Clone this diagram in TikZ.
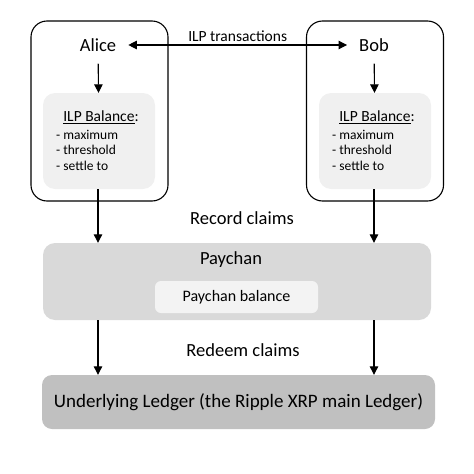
\documentclass[tikz,border=0pt]{standalone}
\usepackage{fontspec}
\setmainfont{Carlito}
\usepackage{tikz}
\usetikzlibrary{arrows.meta}
\definecolor{balfill}{RGB}{240,240,240}
\definecolor{chanfill}{RGB}{217,217,217}
\definecolor{chanbal}{RGB}{243,243,243}
\definecolor{ledgerfill}{RGB}{192,192,192}

\begin{document}
\begin{tikzpicture}[x=1pt, y=-1pt,
    >={Triangle[length=8.5pt, width=8.5pt]},
    flow/.style={->, line width=1.1pt},
    party/.style={draw=black, line width=1.1pt, rounded corners=16pt, minimum width=137pt, minimum height=180pt},
    who/.style={font=\fontsize{18.5}{22}\selectfont, inner sep=12pt},
    balbox/.style={fill=balfill, rounded corners=12pt, minimum width=112pt, minimum height=96pt},
    baltitle/.style={font=\fontsize{15.5}{18}\selectfont},
    ballist/.style={font=\fontsize{13.5}{15.5}\selectfont, align=left, anchor=west, inner sep=0pt},
    bigtext/.style={font=\fontsize{18.5}{22}\selectfont}]
  \useasboundingbox (0,0) rectangle (474,474);

  % the two parties
  \node[party] (aliceBox) at (99.5,111) {};
  \node[party] (bobBox) at (375,111) {};
  \node[balbox] (aliceBal) at (99,141) {};
  \node[balbox] (bobBal) at (375,141) {};
  \node[who] (alice) at (98,45) {Alice};
  \node[who] (bob) at (374,45) {Bob};
  \node[baltitle] (aliceHead) at (101,117) {\underline{ILP Balance}:};
  \node[baltitle] (bobHead) at (377,117) {\underline{ILP Balance}:};
  \node[ballist] (aliceList) at (56,150) {- maximum\\- threshold\\- settle to};
  \node[ballist] (bobList) at (332,150) {- maximum\\- threshold\\- settle to};

  % channel and ledger
  \node[fill=chanfill, rounded corners=12pt, minimum width=388pt, minimum height=77pt] (paychan) at (237,281.5) {};
  \node[bigtext] (paychanLabel) at (231,260) {Paychan};
  \node[fill=chanbal, rounded corners=6pt, minimum width=163pt, minimum height=32pt,
        font=\fontsize{16}{19}\selectfont] (paybal) at (236.5,297) {Paychan balance};
  \node[fill=ledgerfill, rounded corners=10pt, minimum width=393pt, minimum height=54pt,
        font=\fontsize{19}{22}\selectfont] (ledger) at (238.5,402) {Underlying Ledger (the Ripple XRP main Ledger)};

  \node[bigtext] (record) at (242,218) {Record claims};
  \node[bigtext] (redeem) at (243,350) {Redeem claims};

  % arrows
  \draw[flow, <->] (alice) -- node[above, font=\fontsize{15.5}{18}\selectfont] {ILP transactions} (bob);
  \draw[flow] (alice) -- (aliceBal);
  \draw[flow] (bob) -- (bobBal);
  \draw[flow] (aliceBal.south -| alice) -- (paychan.north -| alice);
  \draw[flow] (bobBal.south -| bob) -- (paychan.north -| bob);
  \draw[flow] (paychan.south -| alice) -- (ledger.north -| alice);
  \draw[flow] (paychan.south -| bob) -- (ledger.north -| bob);
\end{tikzpicture}
\end{document}
